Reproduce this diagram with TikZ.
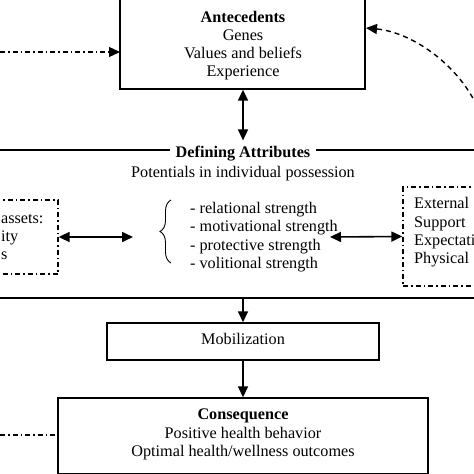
\documentclass[tikz,border=0pt]{standalone}
\usepackage{fontspec}
\setmainfont{Liberation Serif}
\usetikzlibrary{arrows.meta,decorations.pathreplacing}
\begin{document}
\begin{tikzpicture}[x=1pt,y=-1pt,
  font=\fontsize{16.2}{18}\selectfont,
  box/.style={draw, line width=1.4pt, inner sep=0pt},
  dbox/.style={draw, line width=1.3pt, inner sep=0pt, dash pattern=on 5pt off 3pt on 1.5pt off 3pt},
  txt/.style={anchor=base, inner sep=0pt},
  ltxt/.style={anchor=base west, inner sep=0pt},
  tip/.style={-{Triangle[length=11pt,width=10pt]}, line width=1.6pt},
  dtip/.style={{Triangle[length=11pt,width=10pt]}-{Triangle[length=11pt,width=10pt]}, line width=1.6pt},
  dashdotline/.style={line width=1.3pt, dash pattern=on 5pt off 3pt on 1.5pt off 3pt},
  dashcurve/.style={line width=1.4pt, dash pattern=on 5pt off 4pt}]
\useasboundingbox (0,0) rectangle (474,474);
\fill[white] (0,0) rectangle (474,474);
\clip (0,0) rectangle (474,474);

% Antecedents
\node[box, minimum width=245pt, minimum height=90pt] (ante) at (242.5,44) {};
\node[txt, font=\fontsize{16.2}{18}\selectfont\bfseries] (anteT) at (243,22) {Antecedents};
\node[txt] (ante1) at (243,40) {Genes};
\node[txt] (ante2) at (243,58) {Values and beliefs};
\node[txt] (ante3) at (243,76) {Experience};

% Defining attributes
\node[box, minimum width=485pt, minimum height=148pt] (def) at (237.5,224) {};
\node[txt, fill=white, inner xsep=6pt, inner ysep=5pt, font=\fontsize{16.2}{18}\selectfont\bfseries] (defT) at (243,157) {Defining Attributes};
\node[txt] (def1) at (243,177) {Potentials in individual possession};

\node[ltxt] (s1) at (190,213) {- relational strength};
\node[ltxt] (s2) at (190,231.5) {- motivational strength};
\node[ltxt] (s3) at (190,250) {- protective strength};
\node[ltxt] (s4) at (190,268.5) {- volitional strength};
\draw[decorate, decoration={brace, amplitude=11pt}, line width=0.9pt] (171,263) -- (171,200);

% left dash-dot box
\node[dbox, minimum width=68pt, minimum height=74pt] (lbox) at (24,237) {};
\node[ltxt] (l1) at (1,223) {assets:};
\node[ltxt] (l2) at (1,241) {ity};
\node[ltxt] (l3) at (1,259) {s};

% right dash-dot box
\node[dbox, minimum width=82pt, minimum height=99pt] (rbox) at (444,236.5) {};
\node[ltxt] (r1) at (414,208) {External};
\node[ltxt] (r2) at (414,227) {Support};
\node[ltxt] (r3) at (414,245) {Expectati};
\node[ltxt] (r4) at (414,263) {Physical};

% Mobilization
\node[box, minimum width=272pt, minimum height=37pt] (mob) at (243,341.5) {};
\node[txt] (mobT) at (243,344) {Mobilization};

% Consequence
\node[box, minimum width=370pt, minimum height=76pt] (cons) at (243,436) {};
\node[txt, font=\fontsize{16.2}{18}\selectfont\bfseries] (consT) at (243,419) {Consequence};
\node[txt] (cons1) at (243,438) {Positive health behavior};
\node[txt] (cons2) at (243,456) {Optimal health/wellness outcomes};

% connectors
\coordinate (leftfree) at (0,52);
\coordinate (antein) at (120,52);
\draw[dashdotline, -{Triangle[length=11pt,width=10pt]}] (leftfree) -- (antein);

\coordinate (curvefree) at (477,106);
\coordinate (antecurve) at (366,28);
\draw[dashcurve, -{Triangle[length=11pt,width=10pt]}] (curvefree) .. controls (456,62) and (410,32) .. (antecurve);

\draw[dtip] (defT.north |- ante.south) -- (defT.north);

\coordinate (lend) at (133,237);
\draw[dtip] (lbox.east) -- (lend);
\coordinate (rstart) at (330,237);
\draw[dtip] (rstart) -- (rbox.west);

\draw[tip] (mob.north |- def.south) -- (mob.north);
\draw[tip] (mob.south) -- (cons.north);

\coordinate (consfree) at (0,435);
\draw[dashdotline] (consfree) -- (cons.west |- consfree);
\end{tikzpicture}
\end{document}
